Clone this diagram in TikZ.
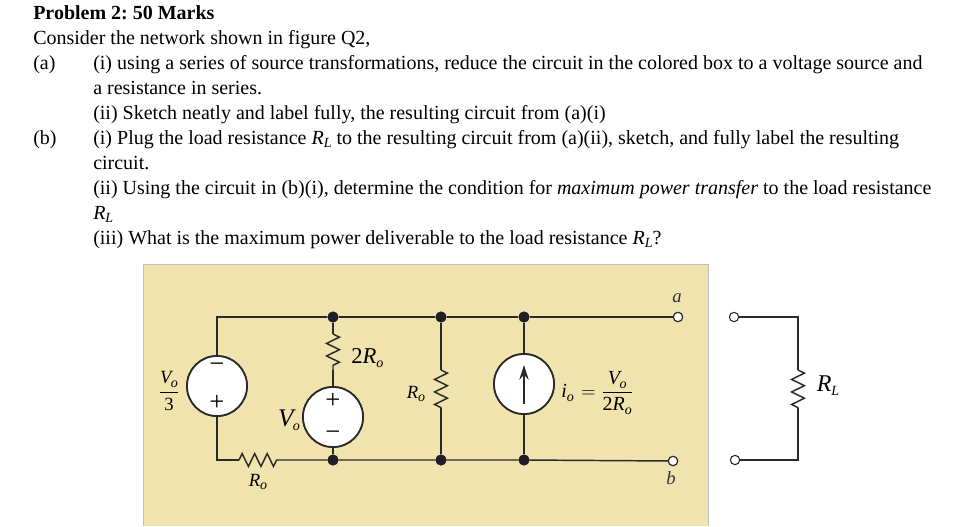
\documentclass[tikz,border=0pt]{standalone}
\usepackage{fontspec}
\setmainfont{Liberation Serif}
\usetikzlibrary{decorations.pathmorphing,arrows.meta}
\definecolor{boxfill}{HTML}{F0E3AE}
\definecolor{wirecol}{HTML}{2A2A2A}
\definecolor{dotcol}{HTML}{1E1E24}
\newcommand{\Sb}[1]{\raisebox{-2.8pt}{\fontsize{10.5}{10.5}\selectfont\textit{#1}}}
\newcommand{\RL}{\textit{R}\Sb{L}}
\newcommand{\Ro}{\textit{R}\Sb{o}}
\newcommand{\Vo}{\textit{V}\kern-0.12em\Sb{o}}
\tikzset{
  textline/.style={anchor=base west,inner sep=0pt,font=\fontsize{15}{17}\selectfont\frenchspacing},
  wire/.style={draw=wirecol,line width=1.1pt},
  res/.style={wire,decorate,decoration={zigzag,segment length=9.4pt,amplitude=4.8pt}},
  junction/.style={circle,fill=dotcol,draw=none,minimum size=8.2pt,inner sep=0pt},
  terminal/.style={circle,fill=white,draw=wirecol,line width=0.8pt,minimum size=7pt,inner sep=0pt},
  source/.style={circle,fill=white,draw=wirecol,line width=1.3pt,minimum size=45pt,inner sep=0pt},
  clabel/.style={inner sep=0pt,font=\fontsize{14}{16}\selectfont},
  polarity/.style={inner sep=0pt,font=\fontsize{20}{20}\selectfont}
}
\begin{document}
\begin{tikzpicture}[x=0.75pt,y=-0.75pt]
\useasboundingbox (0,0) rectangle (964,526);
% text
\node[textline,font=\fontsize{15}{17}\selectfont\bfseries\frenchspacing] (t1) at (33,19) {Problem 2: 50 Marks};
\node[textline] (t2) at (33,44) {Consider the network shown in figure Q2,};
\node[textline] (t3a) at (33,69) {(a)};
\node[textline] (t3) at (93,69) {(i) using a series of source transformations, reduce the circuit in the colored box to a voltage source and};
\node[textline] (t4) at (93,94) {a resistance in series.};
\node[textline] (t5) at (93,119) {(ii) Sketch neatly and label fully, the resulting circuit from (a)(i)};
\node[textline] (t6a) at (33,144) {(b)};
\node[textline] (t6) at (93,144) {(i) Plug the load resistance \RL{} to the resulting circuit from (a)(ii), sketch, and fully label the resulting};
\node[textline] (t7) at (93,169) {circuit.};
\node[textline] (t8) at (93,194) {(ii) Using the circuit in (b)(i), determine the condition for \textit{maximum power transfer} to the load resistance};
\node[textline] (t9) at (93,219) {\RL};
\node[textline] (t10) at (93,244) {(iii) What is the maximum power deliverable to the load resistance \RL?};
% coloured box
\fill[boxfill] (143,264) rectangle (708,526);
\draw[black!25,line width=0.6pt] (143,526) -- (143,264) -- (708,264) -- (708,526);
% nodes
\coordinate (tl) at (217,317);
\coordinate (bl) at (217,460);
\node[junction] (n1) at (333,317) {};
\node[junction] (n2) at (441,317) {};
\node[junction] (n3) at (524,317) {};
\node[terminal] (a) at (678,317) {};
\node[junction] (m1) at (333,460) {};
\node[junction] (m2) at (441,460) {};
\node[junction] (m3) at (524,460) {};
\node[terminal] (b) at (673,461) {};
\node[source] (s1) at (217,386) {};
\node[source] (s2) at (333,417) {};
\node[source] (s3) at (524,384) {};
\coordinate (r1t) at (333,334); \coordinate (r1b) at (333,370);
\coordinate (r2l) at (239,460); \coordinate (r2r) at (278,460);
\coordinate (r3t) at (441,370); \coordinate (r3b) at (441,408);
% wires
\draw[wire] (s1) -- (tl) -- (n1) -- (n2) -- (n3) -- (a);
\draw[wire] (s1) -- (bl) -- (r2l);
\draw[wire] (r2r) -- (m1) -- (m2) -- (m3) -- (b);
\draw[wire] (n1) -- (r1t); \draw[wire] (r1b) -- (s2); \draw[wire] (s2) -- (m1);
\draw[wire] (n2) -- (r3t); \draw[wire] (r3b) -- (m2);
\draw[wire] (n3) -- (s3); \draw[wire] (s3) -- (m3);
\draw[res] (r1t) -- (r1b);
\draw[res] (r2l) -- (r2r);
\draw[res] (r3t) -- (r3b);
% redraw on top of wires
\node[source] at (217,386) {};
\node[source] at (333,417) {};
\node[source] at (524,384) {};
\node[junction] at (333,317) {}; \node[junction] at (441,317) {}; \node[junction] at (524,317) {};
\node[junction] at (333,460) {}; \node[junction] at (441,460) {}; \node[junction] at (524,460) {};
\node[terminal] at (678,317) {}; \node[terminal] at (673,461) {};
% polarity
\node[polarity] (p1) at (217,368) {−};
\node[polarity] (p2) at (217,403) {+};
\node[polarity] (p3) at (333,401) {+};
\node[polarity] (p4) at (333,436) {−};
\coordinate (arrb) at (524,404); \coordinate (arrt) at (524,365);
\draw[wire,-{Stealth[length=11pt,width=7pt]}] (arrb) -- (arrt);
% labels
\node[clabel] (lv3) at (169,391) {$\displaystyle\frac{\hbox{\Vo}}{\hbox{3}}$};
\node[clabel,font=\fontsize{17}{17}\selectfont,anchor=west] (l2r) at (351,358) {2\Ro};
\node[clabel,font=\fontsize{19}{19}\selectfont] (lvo) at (289,420) {\Vo};
\node[clabel] (lro) at (416,394) {\Ro};
\node[clabel] (lrb) at (258,482) {\Ro};
\node[clabel,font=\fontsize{15}{17}\selectfont,anchor=west] (lio) at (561,393) {\textit{i}\Sb{o}\kern5.5pt$=$\kern4pt$\displaystyle\frac{\hbox{\Vo}}{\hbox{2\Ro}}$};
\node[clabel,text=black!80] (la) at (677,298) {\textit{a}};
\node[clabel,text=black!80] (lb) at (671,478) {\textit{b}};
% load
\node[terminal] (c) at (734,317) {};
\node[terminal] (d) at (735,460) {};
\coordinate (ctr) at (798,317); \coordinate (cbr) at (798,460);
\coordinate (r4t) at (798,370); \coordinate (r4b) at (798,408);
\draw[wire] (c) -- (ctr) -- (r4t);
\draw[wire] (r4b) -- (cbr) -- (d);
\draw[res] (r4t) -- (r4b);
\node[clabel,font=\fontsize{18}{18}\selectfont] (lrl) at (828,386) {\RL};
\end{tikzpicture}
\end{document}
